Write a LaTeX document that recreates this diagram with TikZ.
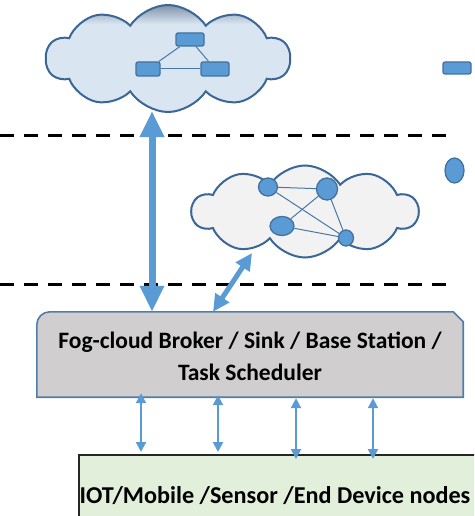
\documentclass[tikz,border=0pt]{standalone}
\usepackage{fontspec}
\setmainfont{Carlito}
\usetikzlibrary{shapes.symbols,shapes.geometric,arrows.meta}
\definecolor{cfill}{HTML}{DAE5F2}
\definecolor{cshadow}{HTML}{7F93A8}
\definecolor{cline}{HTML}{3A6795}
\definecolor{nfill}{HTML}{5B9BD5}
\definecolor{nline}{HTML}{41719C}
\definecolor{gcloud}{HTML}{F2F2F2}
\definecolor{bfill}{HTML}{D0CECE}
\definecolor{bline}{HTML}{4F7DA8}
\definecolor{gfill}{HTML}{E2EFDA}
\definecolor{arr}{HTML}{5B9BD5}
\pgfdeclareverticalshading{cloudsh}{100bp}{color(0bp)=(cfill); color(66bp)=(cfill); color(71bp)=(cshadow!55!cfill); color(75bp)=(cshadow); color(100bp)=(cshadow)}
\tikzset{
  cloudbase/.style={cloud, cloud ignores aspect, inner sep=0pt, draw=cline, line width=2pt},
  netrect/.style={rectangle, rounded corners=2pt, fill=nfill, draw=nline, line width=1.3pt, inner sep=0pt},
  netellipse/.style={ellipse, fill=nfill, draw=nline, line width=1.3pt, inner sep=0pt},
  netline/.style={draw=nline!80!nfill, line width=1pt},
  dashline/.style={draw=black, line width=3pt, dash pattern=on 14pt off 10pt},
  bigarrow/.style={draw=arr, line width=7pt, {Triangle[width=23pt,length=26pt]}-{Triangle[width=23pt,length=26pt]}},
  diagarrow/.style={draw=arr, line width=5pt, {Triangle[width=16pt,length=17pt]}-{Triangle[width=16pt,length=17pt]}},
  smallarrow/.style={draw=arr, line width=2pt, {Triangle[width=10pt,length=10pt]}-{Triangle[width=10pt,length=10pt]}},
  brokerbox/.style={fill=bfill, draw=bline, line width=1.6pt},
  brokertext/.style={font=\bfseries\fontsize{23.5}{32}\selectfont, align=center, inner sep=0pt},
  devbox/.style={rectangle, fill=gfill, draw=black!85, line width=1.6pt, inner sep=0pt},
  devtext/.style={font=\bfseries\fontsize{24.2}{28}\selectfont, inner sep=0pt}
}
\begin{document}
\begin{tikzpicture}[x=1pt,y=-1pt]
\useasboundingbox (0,0) rectangle (474,516);
\fill[white] (0,0) rectangle (474,516);
\clip (0,0) rectangle (474,516);
% dashed separators
\coordinate (L1a) at (0,135); \coordinate (L1b) at (447,135);
\coordinate (L2a) at (0,284); \coordinate (L2b) at (447,284);
\draw[dashline] (L1a) -- (L1b);
\draw[dashline] (L2a) -- (L2b);
% top cloud
\node[cloudbase, cloud puffs=10, cloud puff arc=115, minimum width=244, minimum height=107, shade, shading=cloudsh] (cloudA) at (168,58.5) {};
\node[netrect, minimum width=28, minimum height=13] (r1) at (190,39.5) {};
\node[netrect, minimum width=24, minimum height=14] (r2) at (148,69) {};
\node[netrect, minimum width=28, minimum height=14] (r3) at (215,69) {};
\draw[netline] (r1) -- (r2);
\draw[netline] (r1) -- (r3);
\draw[netline] (r2) -- (r3);
% right side items
\node[netrect, minimum width=28, minimum height=12] (rr) at (457,68) {};
\node[netellipse, minimum width=19, minimum height=25] (re) at (454.5,170.5) {};
% middle cloud
\node[cloudbase, cloud puffs=10, cloud puff arc=115, minimum width=226, minimum height=92, fill=gcloud] (cloudB) at (305,211.5) {};
\node[netellipse, minimum width=19, minimum height=18] (c1) at (268,187) {};
\node[netellipse, minimum width=21, minimum height=22] (c2) at (327,189) {};
\node[netellipse, minimum width=24, minimum height=19] (c3) at (282,226) {};
\node[netellipse, minimum width=15, minimum height=16] (c4) at (346,238) {};
\draw[netline] (c1) -- (c2);
\draw[netline] (c1) -- (c4);
\draw[netline] (c2) -- (c3);
\draw[netline] (c2) -- (c4);
\draw[netline] (c3) -- (c4);
% broker box
\node[minimum width=426, minimum height=85, inner sep=0pt] (broker) at (250,354.5) {};
\draw[brokerbox] (broker.south west) -- ([yshift=-13pt]broker.north west) .. controls ([yshift=-5.8pt]broker.north west) and ([xshift=5.8pt]broker.north west) .. ([xshift=13pt]broker.north west) -- ([xshift=-10pt]broker.north east) -- ([yshift=-10pt]broker.north east) -- (broker.south east) -- cycle;
\node[brokertext] (brokerT) at ([yshift=-2pt]broker.center) {Fog-cloud Broker / Sink / Base Station /\\Task Scheduler};
% big arrows
\coordinate (bx) at (152,0);
\draw[bigarrow, shorten <=-2pt] (cloudA.south -| bx) -- (broker.north -| bx);
\coordinate (d1) at (252,253); \coordinate (d2) at (213,0);
\draw[diagarrow] (d1) -- (broker.north -| d2);
% device box
\node[devbox, anchor=north west, minimum width=440, minimum height=100] (dev) at (78,454) {};
\node[devtext, anchor=base] (devT) at (275,503) {IOT/Mobile /Sensor /End Device nodes};
% small arrows
\coordinate (a1) at (141,0); \coordinate (a2) at (218,0);
\coordinate (a3) at (296,0); \coordinate (a4) at (373,0);
\draw[smallarrow, shorten <=-4pt, shorten >=2pt] (broker.south -| a1) -- (dev.north -| a1);
\draw[smallarrow, shorten <=-2pt, shorten >=2pt] (broker.south -| a2) -- (dev.north -| a2);
\draw[smallarrow, shorten <=1pt, shorten >=-5pt] (broker.south -| a3) -- (dev.north -| a3);
\draw[smallarrow, shorten <=1pt, shorten >=-5pt] (broker.south -| a4) -- (dev.north -| a4);
\end{tikzpicture}
\end{document}
